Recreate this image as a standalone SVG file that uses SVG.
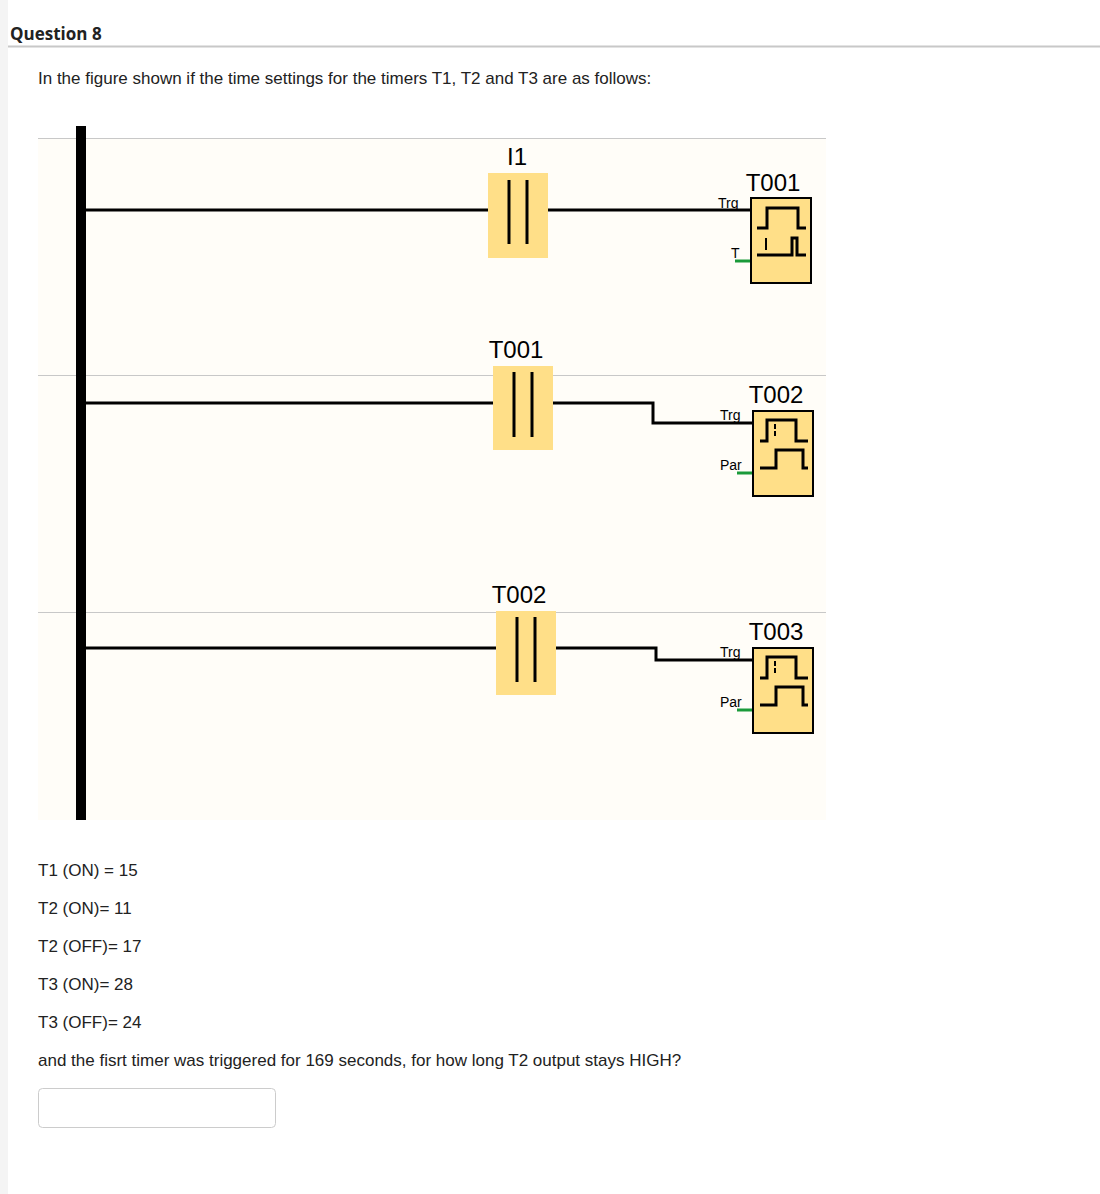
<svg xmlns="http://www.w3.org/2000/svg" width="1100" height="1194" viewBox="0 0 1100 1194">
<style>
.t{font-family:"Liberation Sans",Arial,sans-serif;fill:#222;font-size:17px}
.lbl{font-family:"Liberation Sans",Arial,sans-serif;fill:#000;font-size:24px}
.sm{font-family:"Liberation Sans",Arial,sans-serif;fill:#000;font-size:14px}
.w{stroke:#000;stroke-width:3;fill:none}
.y{fill:#ffdf88}
.box{fill:#ffdf88;stroke:#000;stroke-width:2}
.sym{stroke:#000;stroke-width:3;fill:none}
.g{stroke:#1a9a3a;stroke-width:3}
.h{stroke:#c8c8c8;stroke-width:1}
</style>
<rect width="1100" height="1194" fill="#fff"/>
<rect x="0" y="0" width="8" height="1194" fill="#f4f4f4"/>
<text x="10" y="40" font-family="Open Sans,Liberation Sans,sans-serif" font-weight="bold" font-size="17" fill="#222">Question 8</text>
<line x1="8" y1="46.5" x2="1100" y2="46.5" stroke="#c8c8c8" stroke-width="2"/>
<text class="t" x="38" y="84">In the figure shown if the time settings for the timers T1, T2 and T3 are as follows:</text>
<rect x="38" y="138" width="788" height="682" fill="#fffdf8"/>
<g id="grid"><line class="h" x1="38" y1="138.5" x2="826" y2="138.5"/><line class="h" x1="38" y1="375.5" x2="826" y2="375.5"/><line class="h" x1="38" y1="612.5" x2="826" y2="612.5"/></g>
<rect x="76" y="126" width="10" height="694" fill="#000"/>
<g id="connectors">
<polyline class="w" points="86,210 750,210"/>
<polyline class="w" points="86,403 653,403 653,423 753,423"/>
<polyline class="w" points="86,648 656,648 656,660 753,660"/>
<line class="g" x1="735" y1="261" x2="750" y2="261"/>
<line class="g" x1="737" y1="473" x2="753" y2="473"/>
<line class="g" x1="737" y1="710" x2="753" y2="710"/>
</g>
<g id="I1"><rect class="y" x="488" y="173" width="60" height="85"/><line class="w" x1="509" y1="180" x2="509" y2="244" stroke-width="2"/><line class="w" x1="527" y1="180" x2="527" y2="244" stroke-width="2"/><text class="lbl" x="517" y="165" text-anchor="middle">I1</text></g>
<g id="C1"><rect class="y" x="493" y="366" width="60" height="84"/><line class="w" x1="514" y1="372" x2="514" y2="437" stroke-width="2"/><line class="w" x1="532" y1="372" x2="532" y2="437" stroke-width="2"/><text class="lbl" x="516" y="358" text-anchor="middle">T001</text></g>
<g id="C2"><rect class="y" x="496" y="611" width="60" height="84"/><line class="w" x1="517" y1="617" x2="517" y2="682" stroke-width="2"/><line class="w" x1="535" y1="617" x2="535" y2="682" stroke-width="2"/><text class="lbl" x="519" y="603" text-anchor="middle">T002</text></g>
<g id="T001"><rect class="box" x="751" y="198" width="60" height="85"/>
<text class="lbl" x="773" y="191" text-anchor="middle">T001</text>
<text class="sm" x="718" y="208">Trg</text><text class="sm" x="731" y="258">T</text>
<polyline class="sym" points="757,228 767,228 767,208 798,208 798,228 806,228"/>
<polyline class="sym" points="757,255 792,255 792,238 797,238 797,255 806,255"/>
<line x1="766" y1="238" x2="766" y2="250" stroke="#000" stroke-width="2"/></g>
<g id="T002"><rect class="box" x="753" y="411" width="60" height="85"/>
<text class="lbl" x="776" y="403" text-anchor="middle">T002</text>
<text class="sm" x="720" y="420">Trg</text><text class="sm" x="720" y="470">Par</text>
<polyline class="sym" points="760,441 767,441 767,420 796,420 796,441 808,441"/>
<polyline class="sym" points="760,468 776,468 776,450 803,450 803,468 808,468"/>
<line x1="775" y1="424" x2="775" y2="438" stroke="#000" stroke-width="2" stroke-dasharray="5,2"/></g>
<g id="T003"><rect class="box" x="753" y="648" width="60" height="85"/>
<text class="lbl" x="776" y="640" text-anchor="middle">T003</text>
<text class="sm" x="720" y="657">Trg</text><text class="sm" x="720" y="707">Par</text>
<polyline class="sym" points="760,678 767,678 767,657 796,657 796,678 808,678"/>
<polyline class="sym" points="760,705 776,705 776,687 803,687 803,705 808,705"/>
<line x1="775" y1="661" x2="775" y2="675" stroke="#000" stroke-width="2" stroke-dasharray="5,2"/></g>
<text class="t" x="38" y="876">T1 (ON) = 15</text>
<text class="t" x="38" y="914">T2 (ON)= 11</text>
<text class="t" x="38" y="952">T2 (OFF)= 17</text>
<text class="t" x="38" y="990">T3 (ON)= 28</text>
<text class="t" x="38" y="1028">T3 (OFF)= 24</text>
<text class="t" x="38" y="1066">and the fisrt timer was triggered for 169 seconds, for how long T2 output stays HIGH?</text>
<rect x="38.5" y="1088.5" width="237" height="39" rx="4" fill="#fff" stroke="#ccc"/>
</svg>
